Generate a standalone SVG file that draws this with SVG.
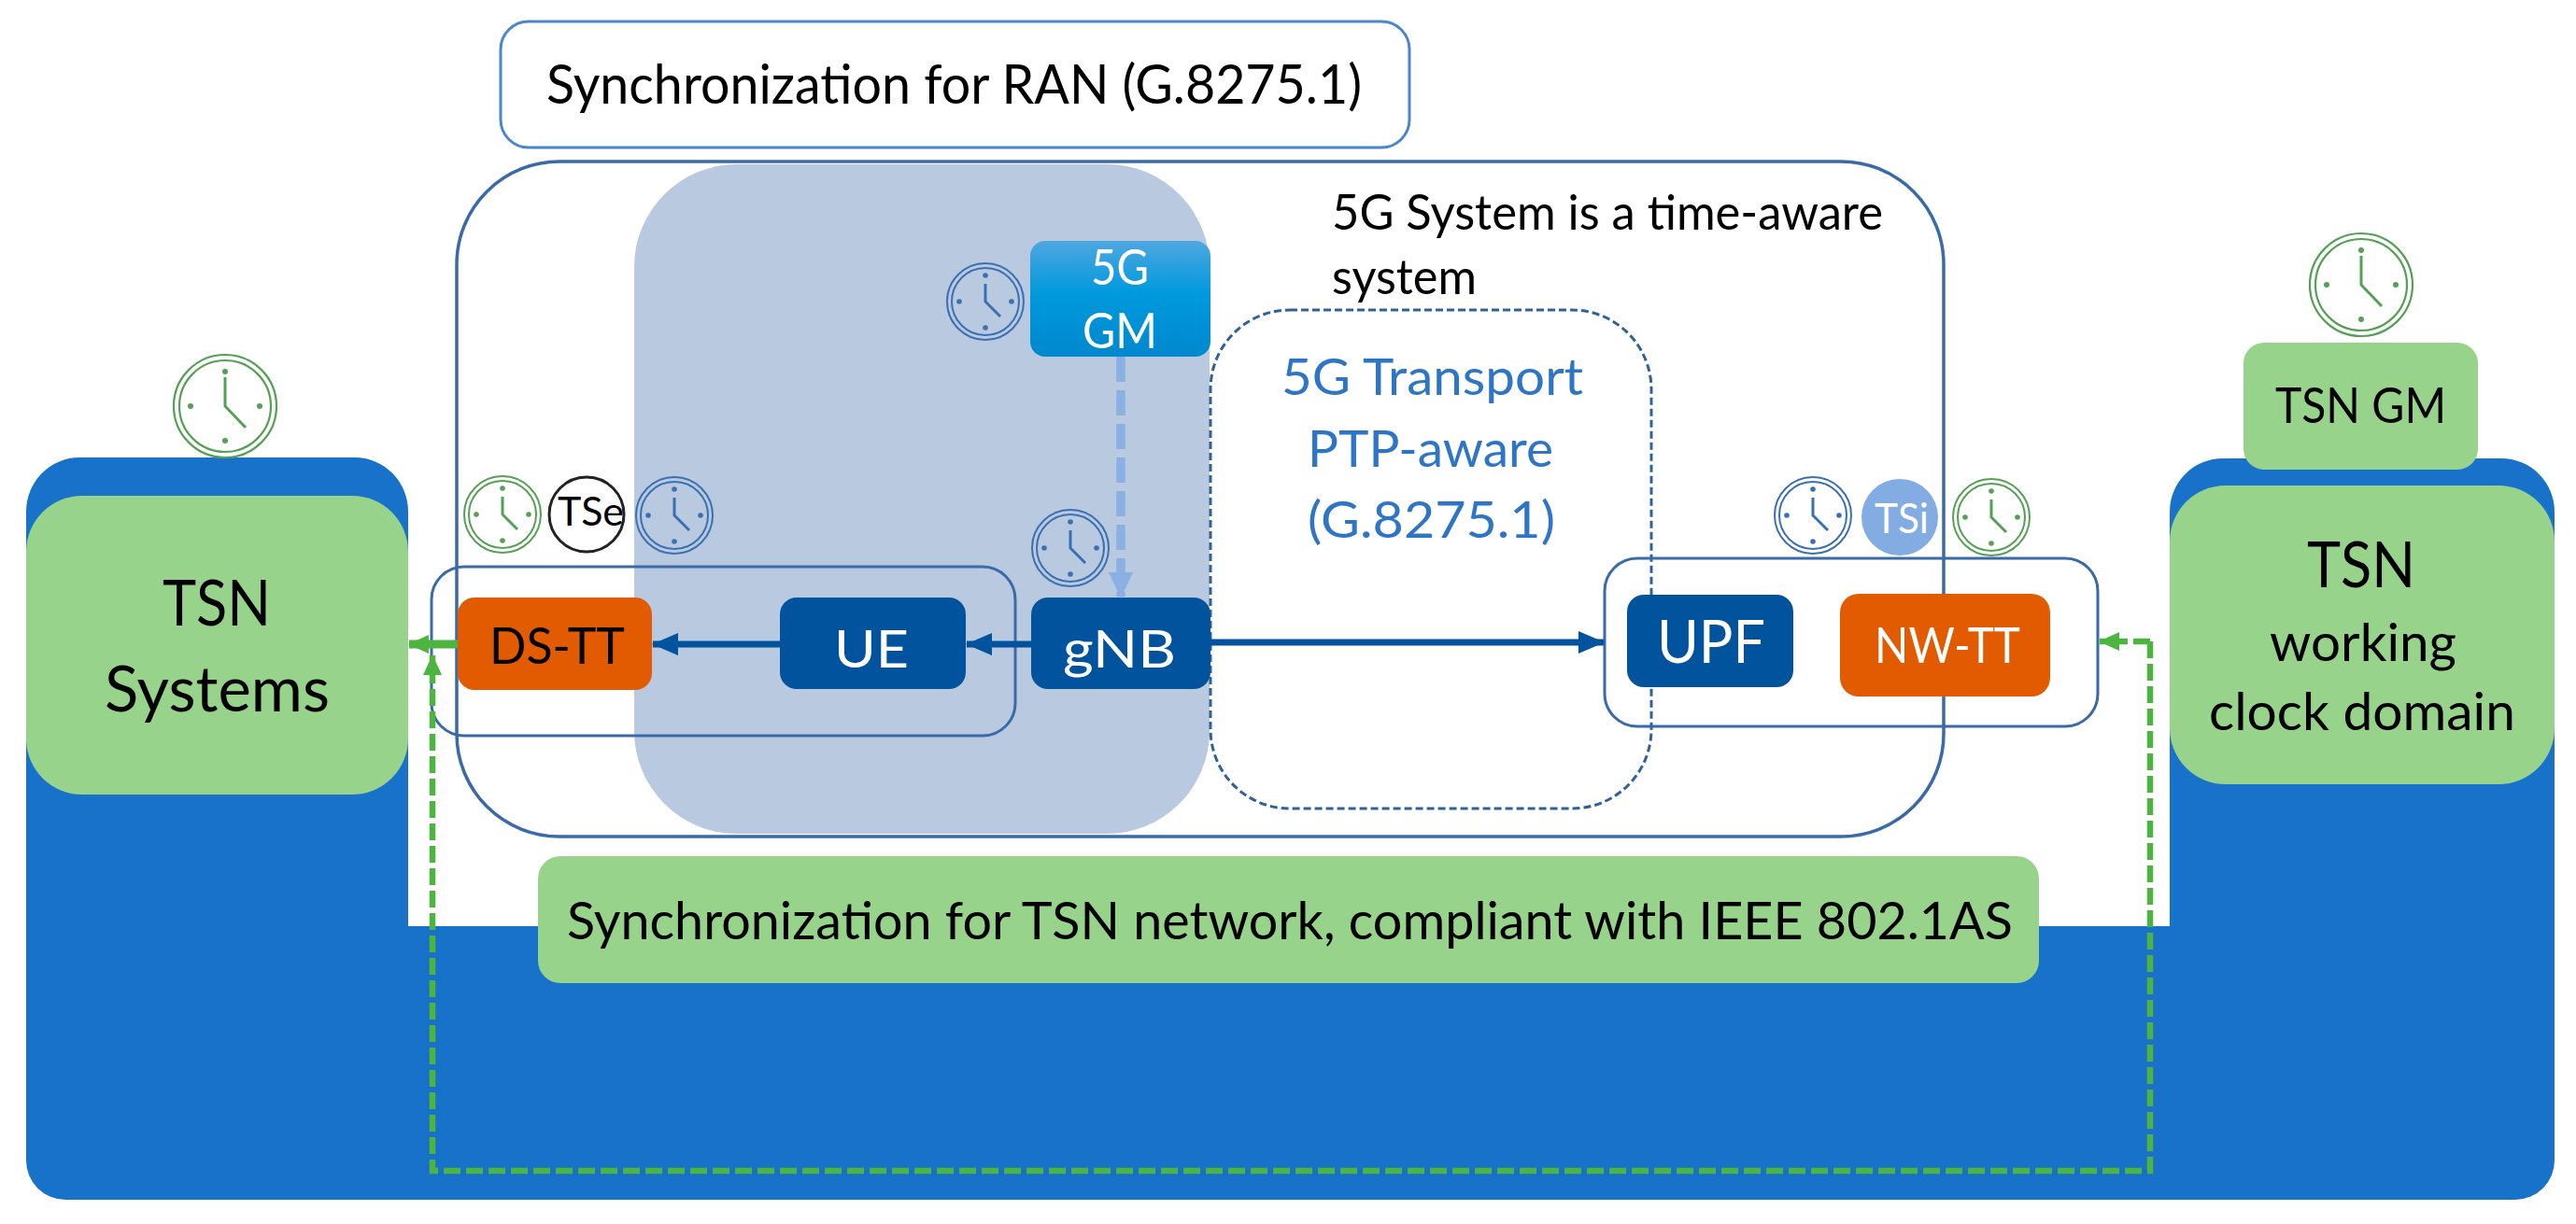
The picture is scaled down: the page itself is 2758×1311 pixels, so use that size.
<svg xmlns="http://www.w3.org/2000/svg" xmlns:xlink="http://www.w3.org/1999/xlink" width="2758" height="1311" viewBox="0 0 2758 1311">
<style>
text{font-family:"Lato","Open Sans","Liberation Sans",sans-serif;fill:#000}
.w{fill:#fff}
.b{fill:#2e75c6}
.green{fill:#98d38c}
.navy{fill:#02539d}
.orange{fill:#e25b00}
.outline{fill:none;stroke:#3a6aa8;stroke-width:3}
.cg{color:#55a055}
.cb{color:#3a70b2}
</style>
<defs>
<linearGradient id="gm" x1="0" y1="0" x2="0" y2="1"><stop offset="0" stop-color="#4fa8e0"/><stop offset="0.45" stop-color="#0099dd"/><stop offset="1" stop-color="#0088ce"/></linearGradient>
<g id="clock" fill="none" stroke="currentColor">
<circle r="41" stroke-width="2"/><circle r="36" stroke-width="2"/>
<path d="M0,-19V0L16,16" stroke-width="3"/>
<g fill="currentColor" stroke="none"><circle cy="-28" r="2.8"/><circle cy="28" r="2.8"/><circle cx="-28" r="2.8"/><circle cx="28" r="2.8"/></g>
</g>
<g id="clock-big" fill="none" stroke="currentColor">
<circle r="55" stroke-width="2.2"/><circle r="49" stroke-width="2.2"/>
<path d="M0,-31V0L22,23" stroke-width="3"/>
<g fill="currentColor" stroke="none"><circle cy="-37" r="3"/><circle cy="37" r="3"/><circle cx="-37" r="3"/><circle cx="37" r="3"/></g>
</g>
<marker id="hNavy" markerUnits="userSpaceOnUse" markerWidth="28" markerHeight="24" refX="27" refY="12" orient="auto"><path d="M0,0L28,12L0,24Z" fill="#02539d"/></marker>
<marker id="hGreen" markerUnits="userSpaceOnUse" markerWidth="22" markerHeight="20" refX="21" refY="10" orient="auto"><path d="M0,0L22,10L0,20Z" fill="#4cb53f"/></marker>
<marker id="hLight" markerUnits="userSpaceOnUse" markerWidth="28" markerHeight="26" refX="26" refY="13" orient="auto"><path d="M0,0L28,13L0,26Z" fill="#8ab0e4"/></marker>
</defs>
<rect width="2758" height="1311" fill="#fff"/>
<g id="tsn-backdrop"><path d="M28,1243V548A57,58 0 0 1 85,490H380A57,58 0 0 1 437,548V992H2323V548A57,57 0 0 1 2380,491H2678A57,57 0 0 1 2735,548V1243A42,42 0 0 1 2693,1285H70A42,42 0 0 1 28,1243Z" fill="#1872c9"/></g>
<g id="tsn-systems"><rect x="28" y="531" width="409" height="320" rx="60" class="green"/>
<text x="174" y="670" font-size="67" textLength="116" lengthAdjust="spacingAndGlyphs">TSN</text>
<text x="112" y="762" font-size="67" textLength="241" lengthAdjust="spacingAndGlyphs">Systems</text></g>
<g id="tsn-domain"><rect x="2323" y="520" width="412" height="320" rx="60" class="green"/>
<text x="2470" y="629" font-size="67" textLength="116" lengthAdjust="spacingAndGlyphs">TSN</text>
<text x="2430" y="708" font-size="56" textLength="200" lengthAdjust="spacingAndGlyphs">working</text>
<text x="2365" y="782" font-size="56" textLength="328" lengthAdjust="spacingAndGlyphs">clock domain</text></g>
<g id="tsn-gm"><rect x="2402" y="367" width="251" height="136" rx="22" class="green"/>
<text x="2436" y="453" font-size="52" textLength="183" lengthAdjust="spacingAndGlyphs">TSN GM</text></g>
<g id="sync-tsn"><rect x="576" y="917" width="1607" height="136" rx="24" class="green"/>
<text x="607" y="1006" font-size="57" textLength="1548" lengthAdjust="spacingAndGlyphs">Synchronization for TSN network, compliant with IEEE 802.1AS</text></g>
<g id="sync-ran"><rect x="536" y="23" width="973" height="135" rx="30" fill="#fff" stroke="#4a86d0" stroke-width="3"/>
<text x="585" y="111" font-size="58" textLength="873" lengthAdjust="spacingAndGlyphs">Synchronization for RAN (G.8275.1)</text></g>
<g id="system-5g"><rect x="489" y="173" width="1592" height="723" rx="110" fill="none" stroke="#3a6aa8" stroke-width="3.5"/>
<text x="1426" y="246" font-size="52" textLength="590" lengthAdjust="spacingAndGlyphs">5G System is a time-aware</text>
<text x="1426" y="315" font-size="52" textLength="155" lengthAdjust="spacingAndGlyphs">system</text></g>
<g id="ran-area"><rect x="679" y="176" width="616" height="717" rx="110" fill="#b8c9e0"/></g>
<g id="transport"><rect x="1296" y="332" width="472" height="534" rx="85" fill="none" stroke="#2f6299" stroke-width="3" stroke-dasharray="8 4"/>
<text class="b" x="1372" y="423" font-size="54" textLength="323" lengthAdjust="spacingAndGlyphs">5G Transport</text>
<text class="b" x="1400" y="500" font-size="54" textLength="263" lengthAdjust="spacingAndGlyphs">PTP-aware</text>
<text class="b" x="1400" y="576" font-size="54" textLength="265" lengthAdjust="spacingAndGlyphs">(G.8275.1)</text></g>
<g id="ue-group"><rect x="462" y="607" width="625" height="181" rx="35" class="outline"/></g>
<g id="upf-group"><rect x="1718" y="598" width="528" height="180" rx="35" class="outline"/></g>
<g id="gm-5g"><rect x="1103" y="258" width="193" height="124" rx="16" fill="url(#gm)"/>
<text class="w" x="1168" y="305" font-size="53" textLength="62" lengthAdjust="spacingAndGlyphs">5G</text>
<text class="w" x="1159" y="373" font-size="53" textLength="80" lengthAdjust="spacingAndGlyphs">GM</text></g>
<g id="ds-tt"><rect x="490" y="640" width="208" height="99" rx="18" class="orange"/>
<text x="524" y="711" font-size="54" textLength="145" lengthAdjust="spacingAndGlyphs">DS-TT</text></g>
<g id="ue"><rect x="835" y="640" width="199" height="98" rx="18" class="navy"/>
<text class="w" x="893" y="715" font-size="56" textLength="80" lengthAdjust="spacingAndGlyphs">UE</text></g>
<g id="gnb"><rect x="1104" y="640" width="192" height="98" rx="18" class="navy"/>
<text class="w" x="1138" y="715" font-size="56" textLength="121" lengthAdjust="spacingAndGlyphs">gNB</text></g>
<g id="upf"><rect x="1742" y="637" width="178" height="99" rx="18" class="navy"/>
<text class="w" x="1774" y="710" font-size="64" textLength="116" lengthAdjust="spacingAndGlyphs">UPF</text></g>
<g id="nw-tt"><rect x="1970" y="636" width="225" height="110" rx="20" class="orange"/>
<text class="w" x="2007" y="710" font-size="52" textLength="156" lengthAdjust="spacingAndGlyphs">NW-TT</text></g>
<g id="tse"><circle cx="628" cy="551" r="40" fill="#fff" stroke="#222" stroke-width="3"/>
<text x="597" y="563" font-size="43" textLength="71" lengthAdjust="spacingAndGlyphs">TSe</text></g>
<g id="tsi"><circle cx="2034" cy="554" r="41" fill="#82ace2"/>
<text class="w" x="2007" y="571" font-size="45" textLength="58" lengthAdjust="spacingAndGlyphs">TSi</text></g>
<g id="clocks">
<use xlink:href="#clock-big" href="#clock-big" class="cg" transform="translate(241,435)"/>
<use xlink:href="#clock-big" href="#clock-big" class="cg" transform="translate(2528,305)"/>
<use xlink:href="#clock" href="#clock" class="cg" transform="translate(538,551)"/>
<use xlink:href="#clock" href="#clock" class="cb" transform="translate(722,552)"/>
<use xlink:href="#clock" href="#clock" class="cb" transform="translate(1055,323)"/>
<use xlink:href="#clock" href="#clock" class="cb" transform="translate(1146,587)"/>
<use xlink:href="#clock" href="#clock" class="cb" transform="translate(1941,552)"/>
<use xlink:href="#clock" href="#clock" class="cg" transform="translate(2132,554)"/>
</g>
<g id="connectors" fill="none">
<path d="M1200,382V639" stroke="#8ab0e4" stroke-width="9.5" stroke-dasharray="27 9" marker-end="url(#hLight)"/>
<path d="M835,690H699" stroke="#02539d" stroke-width="7" marker-end="url(#hNavy)"/>
<path d="M1104,690H1035" stroke="#02539d" stroke-width="7" marker-end="url(#hNavy)"/>
<path d="M1296,688H1717" stroke="#02539d" stroke-width="7" marker-end="url(#hNavy)"/>
<path d="M490,690H438" stroke="#4cb53f" stroke-width="9" marker-end="url(#hGreen)"/>
<path d="M2302,687V1254H463V702" stroke="#4cb53f" stroke-width="6.5" stroke-dasharray="18 6" marker-end="url(#hGreen)"/>
<path d="M2302,687H2248" stroke="#4cb53f" stroke-width="6.5" stroke-dasharray="18 6" marker-end="url(#hGreen)"/>
</g>
</svg>
